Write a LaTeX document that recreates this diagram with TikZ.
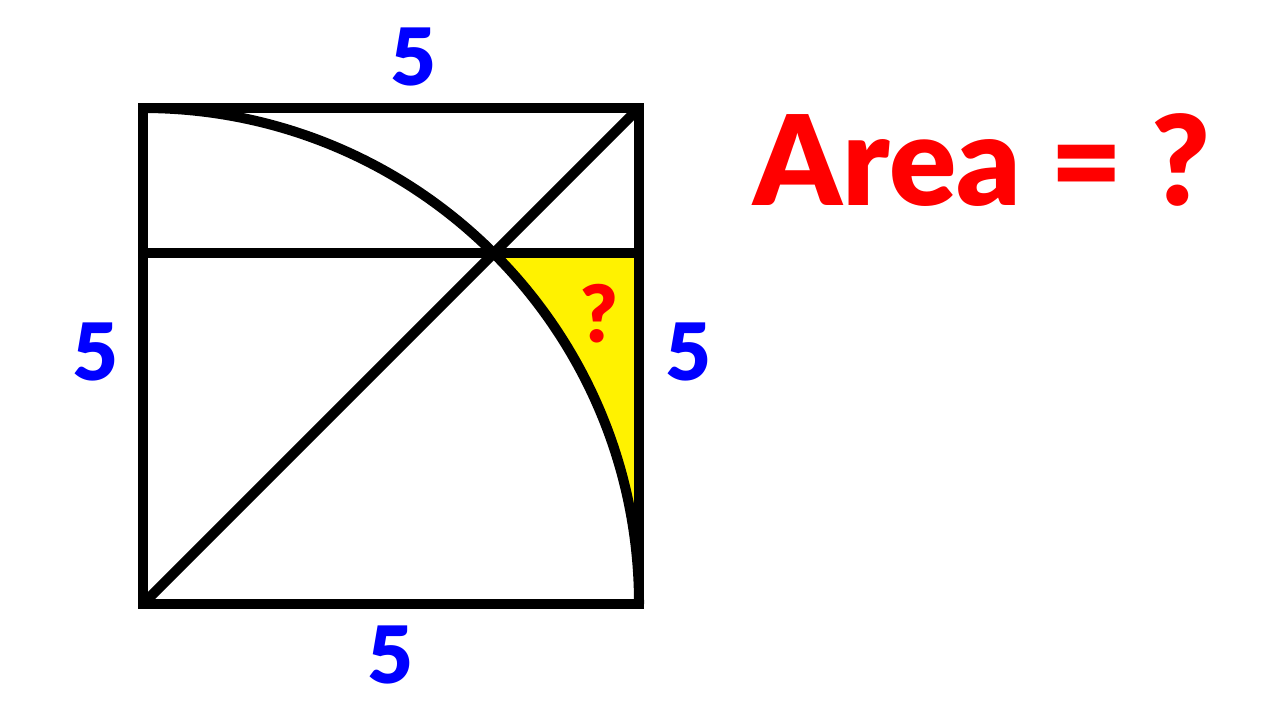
\documentclass[tikz,border=0pt]{standalone}
\usepackage{fontspec}
\setmainfont{Lato}[BoldFont={Lato Black}]
\usepackage{tikz}
\usetikzlibrary{calc}
\tikzset{
    side/.style={text=blue,font=\fontsize{22.5}{27}\selectfont\bfseries,inner sep=0pt},
    ask/.style={text=red,font=\fontsize{22.5}{27}\selectfont\bfseries,inner sep=0pt}
}

\begin{document}
\begin{tikzpicture}[x=0.01cm,y=0.01cm,line width=1mm]
            \useasboundingbox (0,0) rectangle (1280,720);
            \coordinate (A) at (143,116);
            \coordinate (B) at (639,116);
            \coordinate (C) at (639,612);
            \coordinate (D) at (143,612);
            \coordinate (P) at ($(A)+(45:496)$);
            \coordinate (L) at (A|-P);
            \coordinate (R) at (B|-P);
            % shaded piece
            \fill[yellow] (P) -- (R) -- (B) arc[start angle=0,end angle=45,radius=496] -- cycle;
            \draw (A) -- (B) -- (C) -- (D) -- cycle;
            \draw (B) arc[start angle=0,end angle=90,radius=496];
            \draw (A) -- (C);
            \draw (L) -- (R);
            \node[side] (top) at (413,663) {5};
            \node[side] (left) at (95,368) {5};
            \node[side] (right) at (688,368) {5};
            \node[side] (bottom) at (390,65) {5};
            \node[ask] (q) at (599,406) {?};
            \node (area) at (982,560) [text=red,font=\fontsize{35.5}{42}\selectfont\bfseries,inner sep=0pt] {Area = ?};
        \end{tikzpicture}
\end{document}
